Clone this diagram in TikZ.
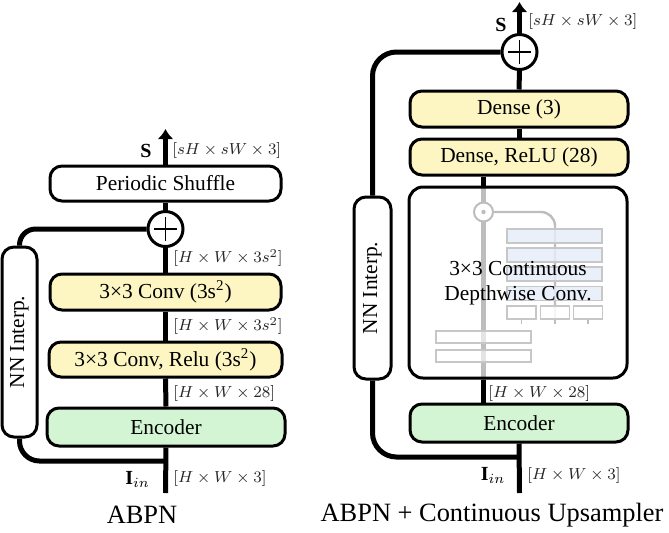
\documentclass[tikz,border=0pt]{standalone}
\usepackage{fontspec}
\setmainfont{Liberation Serif}
\usetikzlibrary{arrows.meta,backgrounds}

\definecolor{convyellow}{HTML}{FDF6C3}
\definecolor{encgreen}{HTML}{D3F5D3}
\definecolor{kernblue}{HTML}{E6EDF9}
\definecolor{tapgray}{HTML}{BDBDBD}

\begin{document}
\begin{tikzpicture}[x=0.5pt,y=-0.5pt]
\tikzset{
  layerbox/.style={rectangle,rounded corners=6pt,draw,line width=1.5pt,fill=white,inner sep=1pt,font=\fontsize{10.7}{12.5}\selectfont},
  convbox/.style={layerbox,fill=convyellow},
  encbox/.style={layerbox,fill=encgreen},
  interpbox/.style={layerbox,rotate=90,minimum width=95pt,minimum height=17.5pt},
  addnode/.style={circle,draw,line width=1.5pt,fill=white,minimum size=17.5pt,inner sep=0pt,
    path picture={\draw[line width=0.6pt]
      ([xshift=-5.8pt]path picture bounding box.center) -- ([xshift=5.8pt]path picture bounding box.center)
      ([yshift=-5.8pt]path picture bounding box.center) -- ([yshift=5.8pt]path picture bounding box.center);}},
  tapnode/.style={circle,draw=tapgray,line width=1pt,fill=white,minimum size=9.5pt,inner sep=0pt,
    path picture={\fill[tapgray] (path picture bounding box.center) circle (1.1pt);}},
  kernrow/.style={rectangle,draw=black!22,line width=0.6pt,fill=kernblue,fill opacity=0.85,minimum width=47.5pt,minimum height=7pt,inner sep=0pt},
  kerncell/.style={kernrow,fill=white,minimum width=14.5pt,minimum height=6.5pt},
  featrow/.style={kernrow,fill=white,fill opacity=0.6,minimum height=6pt},
  mainflow/.style={line width=2.5pt},
  outflow/.style={mainflow,-{Latex[length=5pt,width=8pt]}},
  skipflow/.style={line width=2.5pt},
  tapflow/.style={draw=tapgray,line width=2.5pt},
  branchflow/.style={draw=tapgray,line width=1.2pt},
  dimlabel/.style={inner sep=0pt,anchor=west,text=black!85,font=\fontsize{8.3}{10}\selectfont},
  iolabel/.style={inner sep=0pt,font=\fontsize{10}{12}\selectfont},
  titlelabel/.style={inner sep=0pt,font=\fontsize{13.2}{15}\selectfont}
}
\useasboundingbox (0,0) rectangle (669,532);

% ABPN
\node[layerbox,minimum width=115.5pt,minimum height=17.5pt] (shufL) at (165.5,183.5) {Periodic Shuffle};
\node[addnode] (addL) at (165.5,229) {};
\node[convbox,minimum width=115.5pt,minimum height=18pt] (convL) at (165.5,292) {3×3 Conv (3s\textsuperscript{2})};
\node[convbox,minimum width=116.5pt,minimum height=17.5pt] (reluL) at (165.5,359.5) {3×3 Conv, Relu (3s\textsuperscript{2})};
\node[encbox,minimum width=119pt,minimum height=19pt] (encL) at (166,427) {Encoder};
\node[interpbox] (interpL) at (19.5,342) {NN Interp.};
\coordinate (inL) at (165.5,493);
\coordinate (outL) at (165.5,129);
\coordinate (joinL) at (165.5,461);

\draw[mainflow] (inL) -- (encL.south);
\draw[mainflow] (encL.north) -- (reluL.south);
\draw[mainflow] (reluL.north) -- (convL.south);
\draw[mainflow] (convL.north) -- (addL.south);
\draw[mainflow] (addL.north) -- (shufL.south);
\draw[outflow] (shufL.north) -- (outL);
\draw[skipflow,rounded corners=8pt] (addL.west) -| (interpL.east);
\draw[skipflow,rounded corners=10pt] (interpL.west) |- (joinL);

\node[iolabel] (sL) at (146,151) {$\mathbf{S}$};
\node[iolabel] (iL) at (137.5,479) {$\mathbf{I}_{in}$};
\node[dimlabel] (dOutL) at (172,150) {$[sH\times sW\times 3]$};
\node[dimlabel] (dConvL) at (173,258) {$[H\times W\times 3s^2]$};
\node[dimlabel] (dReluL) at (173,326) {$[H\times W\times 3s^2]$};
\node[dimlabel] (dEncL) at (173,393) {$[H\times W\times 28]$};
\node[dimlabel] (dInL) at (173,478) {$[H\times W\times 3]$};
\node[titlelabel] (titleL) at (142,515) {ABPN};

% ABPN + Continuous Upsampler
\node[addnode] (addR) at (519.5,52) {};
\node[convbox,minimum width=109pt,minimum height=18pt] (denseR3) at (519,109) {Dense (3)};
\node[convbox,minimum width=109pt,minimum height=18pt] (denseR28) at (519,157) {Dense, ReLU (28)};
\node[layerbox,fill=none,rounded corners=7pt,minimum width=109pt,minimum height=95.5pt] (dwR) at (518,282.5) {};
\node[encbox,minimum width=109pt,minimum height=19pt] (encR) at (519,423) {Encoder};
\node[interpbox,minimum width=91pt,minimum height=18.5pt] (interpR) at (372.5,288) {NN Interp.};
\node[tapnode] (tapR) at (483.5,212) {};
\coordinate (inR) at (519.5,493);
\coordinate (outR) at (519.5,2);
\coordinate (joinR) at (519.5,457);

% inside the continuous depthwise conv
\node[kernrow] (kr1) at (554.5,236) {};
\node[kernrow] (kr2) at (554.5,255) {};
\node[kernrow] (kr3) at (554.5,274) {};
\node[kernrow] (kr4) at (554.5,293.5) {};
\node[kerncell] (kc1) at (521.5,312.5) {};
\node[kerncell] (kc2) at (555,312.5) {};
\node[kerncell] (kc3) at (588,312.5) {};
\node[featrow] (fr1) at (483.5,337) {};
\node[featrow] (fr2) at (483.5,356) {};
\begin{scope}[on background layer]
\draw[tapflow] (dwR.south -| tapR) -- (dwR.north -| tapR);
\draw[branchflow,rounded corners=7pt] (tapR.east) -| (kc2.south);
\end{scope}
\draw[branchflow,line width=0.8pt] (kc1.south) -- ++(0,4);
\draw[branchflow,line width=0.8pt] (kc2.south) -- ++(0,4);
\draw[branchflow,line width=0.8pt] (kc3.south) -- ++(0,4);
\node[inner sep=0pt,align=center,font=\fontsize{10.7}{12.5}\selectfont] (dwText) at (518,283) {3×3 Continuous\\Depthwise Conv.};

\draw[mainflow] (inR) -- (encR.south);
\draw[mainflow] (encR.north -| tapR) -- (dwR.south -| tapR);
\draw[mainflow] (dwR.north -| tapR) -- (denseR28.south -| tapR);
\draw[mainflow] (denseR28.north) -- (denseR3.south);
\draw[mainflow] (denseR3.north) -- (addR.south);
\draw[outflow] (addR.north) -- (outR);
\draw[skipflow,rounded corners=12pt] (addR.west) -| (interpR.east);
\draw[skipflow,rounded corners=12pt] (interpR.west) |- (joinR);

\node[iolabel] (sR) at (501,25) {$\mathbf{S}$};
\node[iolabel] (iR) at (493,475) {$\mathbf{I}_{in}$};
\node[dimlabel] (dOutR) at (528,21) {$[sH\times sW\times 3]$};
\node[dimlabel] (dEncR) at (488,393) {$[H\times W\times 28]$};
\node[dimlabel] (dInR) at (527,475) {$[H\times W\times 3]$};
\node[titlelabel] (titleR) at (492,515) {ABPN + Continuous Upsampler};
\end{tikzpicture}
\end{document}
